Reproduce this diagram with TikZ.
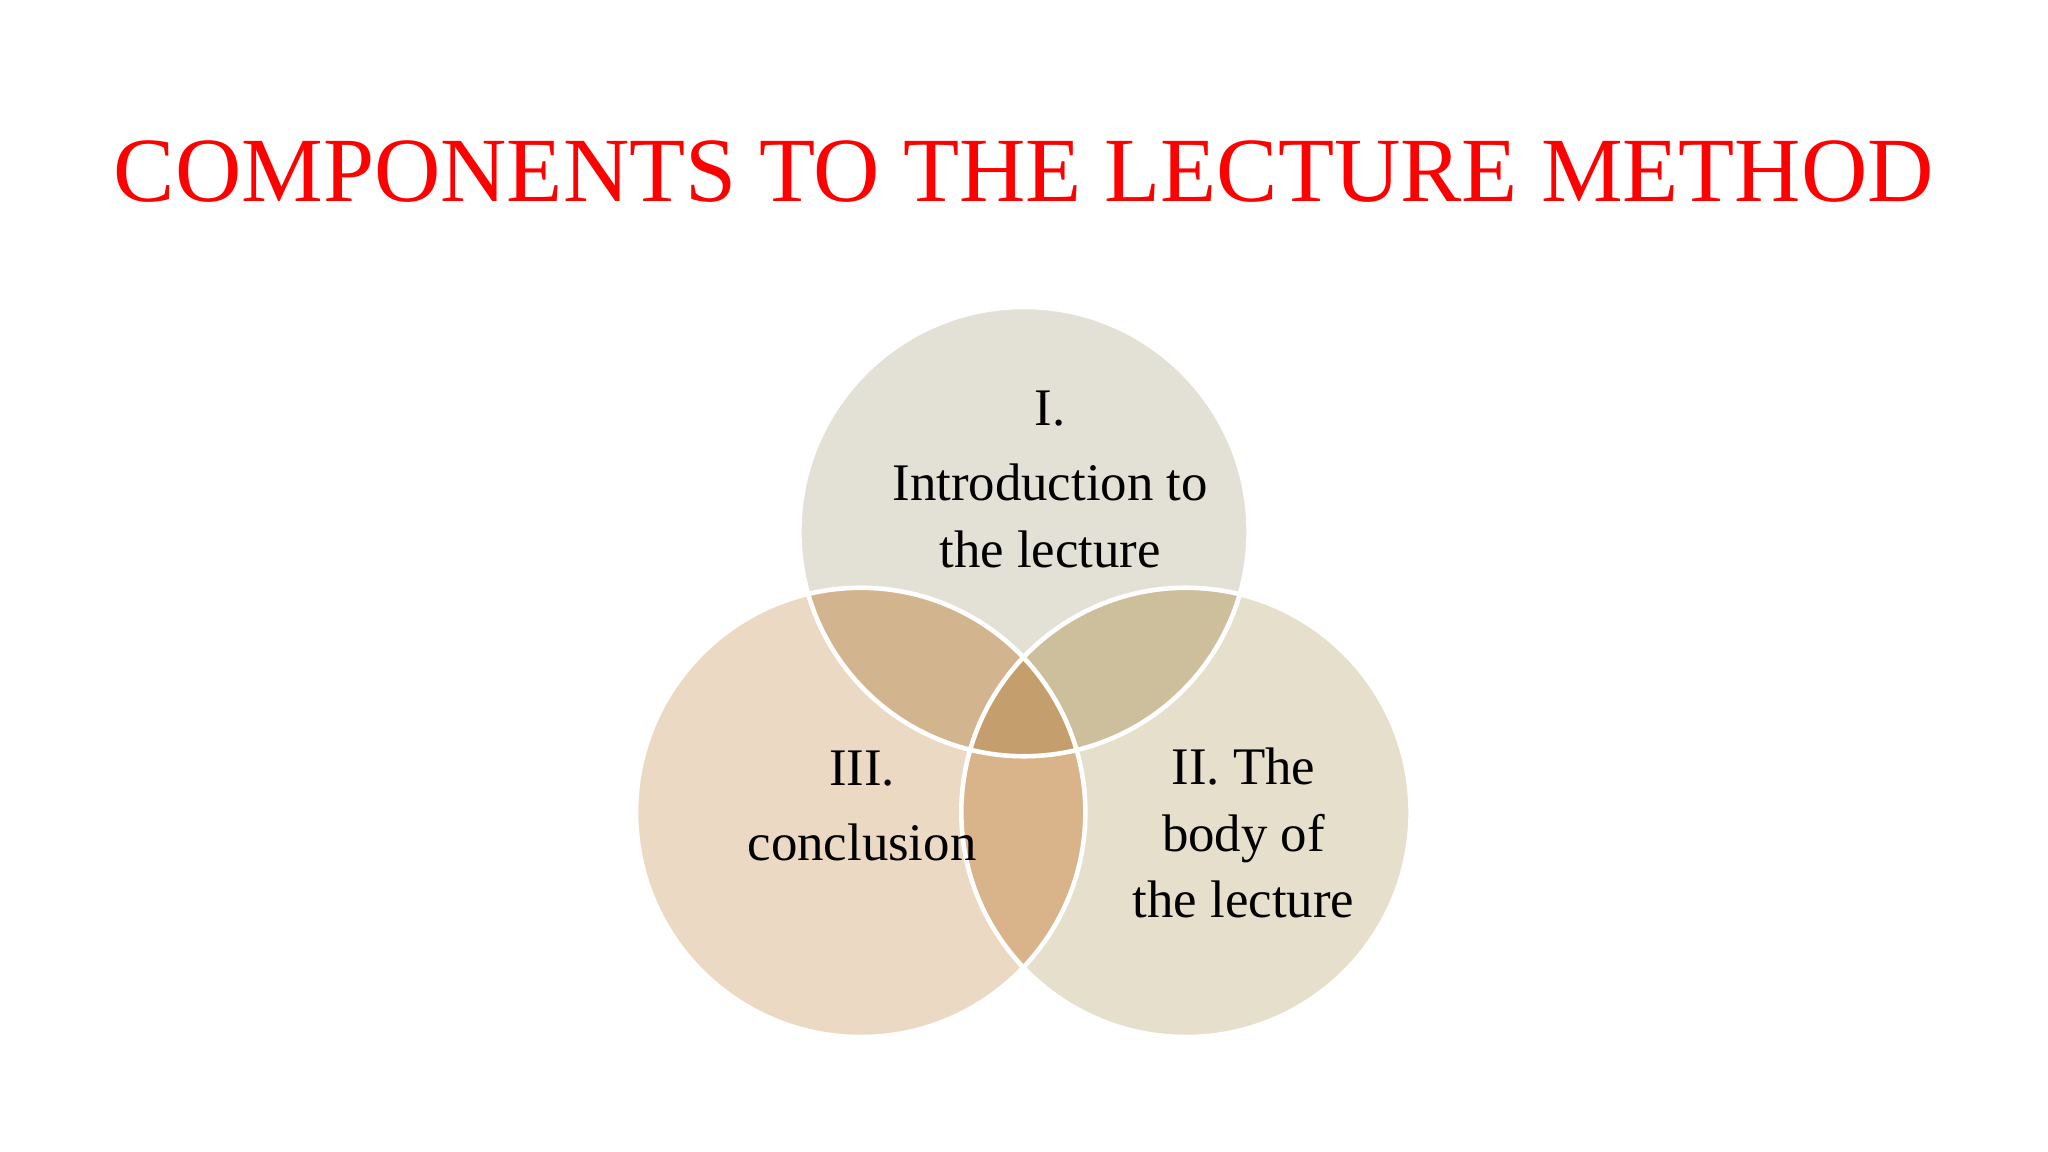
\documentclass[tikz,border=0pt]{standalone}
\usepackage{fontspec}
\setmainfont{Liberation Serif}
\definecolor{ctop}{HTML}{E3E0D6}
\definecolor{cleft}{HTML}{EBD9C4}
\definecolor{cright}{HTML}{E6DFCC}
\definecolor{ctl}{HTML}{D2B48E}
\definecolor{ctr}{HTML}{CDBF9C}
\definecolor{clr}{HTML}{D9B48A}
\definecolor{cmid}{HTML}{C49E6C}
\begin{document}
\begin{tikzpicture}[x=0.01cm,y=-0.01cm,
  lbl/.style={align=center,font=\fontsize{11.5pt}{14.5pt}\selectfont,text=black}]
\useasboundingbox (0,0) rectangle (1568,882);
\fill[white] (0,0) rectangle (1568,882);
\def\T{(784,407) circle (172)}
\def\L{(659,622) circle (172)}
\def\R{(908,622) circle (172)}
\fill[ctop] \T; \fill[cleft] \L; \fill[cright] \R;
\begin{scope}\clip \T; \fill[ctl] \L; \fill[ctr] \R; \end{scope}
\begin{scope}\clip \L; \fill[clr] \R; \end{scope}
\begin{scope}\clip \T; \clip \L; \fill[cmid] \R; \end{scope}
\draw[white,line width=1pt] \T \L \R;
\node[anchor=north,text=red,font=\fontsize{20pt}{24pt}\selectfont] (title) at (784,95) {COMPONENTS TO THE LECTURE METHOD};
\node[lbl] (a) at (804,367) {I.\\[2pt]Introduction to\\the lecture};
\node[lbl] (b) at (660,617) {III.\\[2pt]conclusion};
\node[lbl] (c) at (952,638) {II. The\\body of\\the lecture};
\end{tikzpicture}
\end{document}
